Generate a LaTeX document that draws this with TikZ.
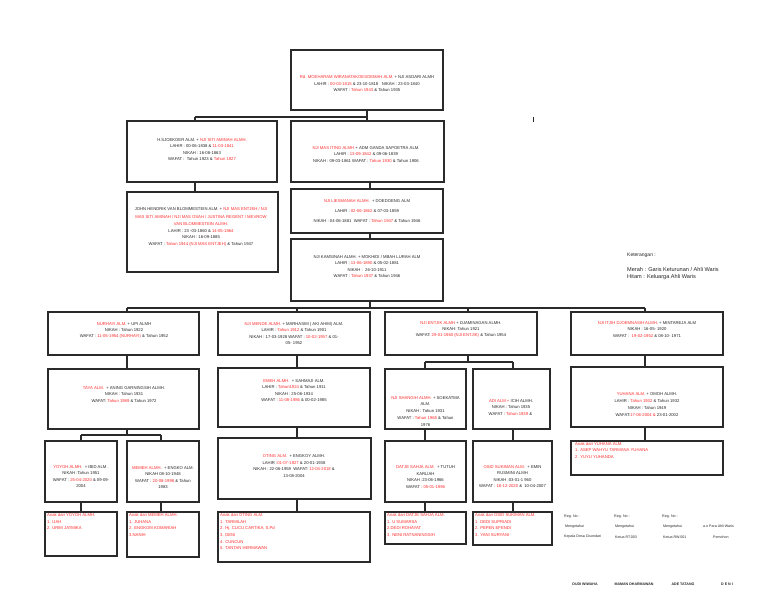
\documentclass[tikz,border=0pt]{standalone}
\usepackage{fontspec}
\setmainfont{Liberation Sans}
\definecolor{redt}{HTML}{FF2B2B}
\definecolor{blk}{HTML}{262626}
\definecolor{lin}{HTML}{2A2A2A}
\newcommand{\rtx}[1]{\textcolor{redt}{#1}}
\begin{document}
\begin{tikzpicture}[x=1pt,y=-1pt,
 box/.style={draw=lin, line width=1.1pt, rectangle, inner sep=0pt, fill=white},
 conn/.style={draw=lin, line width=1.1pt},
 txt/.style={font=\fontsize{4.2}{6.4}\selectfont, align=center, text=blk, inner sep=0pt},
 lst/.style={font=\fontsize{4.2}{6.6}\selectfont, align=left, text=redt, inner sep=0pt, anchor=north west},
 sig/.style={font=\fontsize{3.6}{4.5}\selectfont, text=blk, inner sep=0pt, anchor=west},
 nam/.style={font=\fontsize{3.6}{4.5}\selectfont\bfseries, text=blk, inner sep=0pt},
 leg/.style={font=\fontsize{5.6}{7}\selectfont, text=blk, inner sep=0pt, anchor=west},
]
\useasboundingbox (0,0) rectangle (768,613);
\fill[white] (0,0) rectangle (768,613);

% ---------- boxes ----------
\node[box, minimum width=152pt, minimum height=60pt] (b0) at (367,80) {};
\node[box, minimum width=150pt, minimum height=61pt] (b1a) at (202,151.5) {};
\node[box, minimum width=153pt, minimum height=61pt] (b1b) at (367.5,151.5) {};
\node[box, minimum width=151pt, minimum height=80pt] (b2a) at (202.5,232) {};
\node[box, minimum width=152pt, minimum height=44pt] (b2b) at (367,211) {};
\node[box, minimum width=152pt, minimum height=62pt] (b2c) at (367,270) {};

\node[box, minimum width=151pt, minimum height=43pt] (r4a) at (123.5,333.5) {};
\node[box, minimum width=152pt, minimum height=43pt] (r4b) at (294,333.5) {};
\node[box, minimum width=152pt, minimum height=43pt] (r4c) at (461,333.5) {};
\node[box, minimum width=152pt, minimum height=43pt] (r4d) at (647,333.5) {};

\node[box, minimum width=151pt, minimum height=60pt] (r5a) at (123.5,399) {};
\node[box, minimum width=152pt, minimum height=59pt] (r5b) at (294,397.5) {};
\node[box, minimum width=81pt, minimum height=60pt] (r5c) at (425.5,399) {};
\node[box, minimum width=77pt, minimum height=60pt] (r5d) at (511.5,399) {};
\node[box, minimum width=152pt, minimum height=60pt] (r5e) at (647,397) {};

\node[box, minimum width=72pt, minimum height=61pt] (r6a) at (81,471.5) {};
\node[box, minimum width=72pt, minimum height=61pt] (r6b) at (163,471.5) {};
\node[box, minimum width=153pt, minimum height=61pt] (r6c) at (294.5,468.5) {};
\node[box, minimum width=81pt, minimum height=61pt] (r6d) at (425.5,471.5) {};
\node[box, minimum width=79pt, minimum height=61pt] (r6e) at (512.5,471.5) {};
\node[box, minimum width=152pt, minimum height=34pt] (r6f) at (647,458) {};

\node[box, minimum width=72pt, minimum height=44pt] (r7a) at (81,534) {};
\node[box, minimum width=72pt, minimum height=45pt] (r7b) at (163,534.5) {};
\node[box, minimum width=152pt, minimum height=50pt] (r7c) at (294,537) {};
\node[box, minimum width=81pt, minimum height=32pt] (r7d) at (425.5,528) {};
\node[box, minimum width=79pt, minimum height=33pt] (r7e) at (512.5,528.5) {};

% ---------- junction coordinates ----------
\coordinate (j1) at (367,117);
\coordinate (j1l) at (195,117);
\coordinate (x370) at (370,185);
\coordinate (j3) at (370,308);
\coordinate (j3l) at (127,308);
\coordinate (j3b) at (297,308);
\coordinate (j3c) at (468,308);
\coordinate (j3r) at (645,308);
\coordinate (j4l) at (425,362);
\coordinate (j4r) at (513,362);
\coordinate (j5l) at (81,435);
\coordinate (j5r) at (161,435);
\coordinate (m1) at (533,117);
\coordinate (m2) at (533,122);

% ---------- connectors ----------
\draw[conn] (b0.south) -- (b0.south |- b1b.north);
\draw[conn] (j1l) -- (j1);
\draw[conn] (j1l) -- (j1l |- b1a.north);
\draw[conn] (j1l |- b1a.south) -- (j1l |- b2a.north);
\draw[conn] (x370 |- b1b.south) -- (x370 |- b2b.north);
\draw[conn] (x370 |- b2b.south) -- (x370 |- b2c.north);
\draw[conn] (x370 |- b2c.south) -- (j3);
\draw[conn] (j3l) -- (j3r);
\draw[conn] (j3l) -- (j3l |- r4a.north);
\draw[conn] (j3b) -- (j3b |- r4b.north);
\draw[conn] (j3c) -- (j3c |- r4c.north);
\draw[conn] (j3r) -- (j3r |- r4d.north);
\draw[conn] (j3l |- r4a.south) -- (j3l |- r5a.north);
\draw[conn] (j3b |- r4b.south) -- (j3b |- r5b.north);
\draw[conn] (j3c |- r4c.south) -- (j3c |- j4l);
\draw[conn] (j4l) -- (j4r);
\draw[conn] (j4l) -- (j4l |- r5c.north);
\draw[conn] (j4r) -- (j4r |- r5d.north);
\draw[conn] (j3r |- r4d.south) -- (j3r |- r5e.north);
\draw[conn] (j3l |- r5a.south) -- (j3l |- j5l);
\draw[conn] (j5l) -- (j5r);
\draw[conn] (j5l) -- (j5l |- r6a.north);
\draw[conn] (j5r) -- (j5r |- r6b.north);
\draw[conn] (j3b |- r5b.south) -- (j3b |- r6c.north);
\draw[conn] (j4l |- r5c.south) -- (j4l |- r6d.north);
\draw[conn] (j4r |- r5d.south) -- (j4r |- r6e.north);
\draw[conn] (j3r |- r5e.south) -- (j3r |- r6f.north);
\draw[conn] (j5l |- r6a.south) -- (j5l |- r7a.north);
\draw[conn] (j5r |- r6b.south) -- (j5r |- r7b.north);
\draw[conn] (j3b |- r6c.south) -- (j3b |- r7c.north);
\draw[conn] (j4l |- r6d.south) -- (j4l |- r7d.north);
\draw[conn] (j4r |- r6e.south) -- (j4r |- r7e.north);
\draw[conn, line width=0.9pt] (m1) -- (m2);

% ---------- texts ----------
\node[txt] (t0) at (367,83.5) {\rtx{Rd. MOEHARAM WIRANATAKOESOEMAH ALM.} + NJI ASDARI ALMH\\LAHIR : \rtx{00-03-1815} \& 23-10-1818 \ \ NIKAH : 23-03-1840\\WAFAT : \rtx{Tahun 1943} \& Tahun 1935};

\node[txt] (t1a) at (202,149.5) {H.SJOEKOER ALM. + \rtx{NJI SITI AMINAH ALMH.}\\LAHIR : 00-06-1838 \& \rtx{11-03-1841}\\NIKAH : 16-08-1863\\WAFAT : \ Tahun 1923 \& \rtx{Tahun 1927}};

\node[txt] (t1b) at (366,154.5) {\rtx{NJI MAS ITING ALMH} + ADM GANDA SAPOETRA ALM.\\LAHIR : \rtx{13-09-1842} \& 09-06-1839\\NIKAH : 09-03-1861 WAFAT : \rtx{Tahun 1930} \& Tahun 1906};

\node[txt] (t2a) at (201,227) {JOHN HENDRIK VAN BLOMMESTEIN ALM. + \rtx{NJI MAS ENTJEH / NJI}\\[1.5pt]\rtx{MAS SITI AMINAH / NJI MAS OSAH / JUSTINA REGENT / MEVROW}\\\rtx{VAN BLOMMESTEIN ALMH.}\\[1pt]LAHIR : 23 -03-1860 \& \rtx{14-05-1864}\\NIKAH : 16-09-1885\\WAFAT : \rtx{Tahun 1944 (NJI MAS ENTJEH)} \& Tahun 1947};

\node[txt] (t2b) at (367,211.5) {\rtx{NJI LIESMANAH ALMH.} \ + DOEDOENG ALM\\[3.6pt]LAHIR : \rtx{02-06-1862} \& 07-03-1859\\[3.6pt]NIKAH : 04-06-1881 \ WAFAT : \rtx{Tahun 1947} \& Tahun 1946};

\node[txt] (t2c) at (367,266.5) {NJI KAMSINAH ALMH. + MOKHIDI / MBAH LURAH ALM\\LAHIR : \rtx{13-06-1890} \& 05-02-1881\\NIKAH : \ 26-10-1911\\WAFAT : \rtx{Tahun 1937} \& Tahun 1946};

\node[txt] (t4a) at (124,330.5) {\rtx{NURHAYI ALM.} + UPI ALMH\\NIKAH : Tahun 1922\\WAFAT : \rtx{11-05-1954 (NURHAYI)} \& Tahun 1952};

\node[txt] (t4b) at (294,333.5) {\rtx{NJI MENDE ALMH.} + MARHASIM ( AKI AHIM) ALM.\\LAHIR : \rtx{Tahun 1912} \& Tahun 1901\\NIKAH : 17-03-1928 WAFAT : \rtx{10-02-1957} \& 01-\\05- 1952};

\node[txt] (t4c) at (461,329.5) {\rtx{NJI ENTJIK ALMH} + DJAMINAGAN ALMH.\\NIKAH: Tahun 1921\\WAFAT: \rtx{29-01-1960 (NJI ENTJIK)} \& Tahun 1954};

\node[txt] (t4d) at (647,329.5) {\rtx{NJI ITJIH DJOEMNASIH ALMH.} + MINTAREJA ALM\\NIKAH : 16-05- 1920\\WAFAT : \ \rtx{19-02-1952} \& 08-10- 1971};

\node[txt] (t5a) at (124,394.5) {\rtx{TAYA ALM.} \ + ANING GARNINGSIH ALMH.\\NIKAH : Tahun 1931\\WAFAT: \rtx{Tahun 1989} \& Tahun 1972};

\node[txt] (t5b) at (294,390.5) {\rtx{EMEH ALMH.} \ + SAHMAJI ALM.\\LAHIR : \rtx{Tahun1924} \& Tahun 1911\\NIKAH : 25-06-1934\\WAFAT : \rtx{11-08-1986} \& 00-02-1985};

\node[txt] (t5c) at (425.5,411.5) {\rtx{NJI SHANGIH ALMH.} + SOEKATMA\\ALM.\\[0.6pt]NIKAH : Tahun 1931\\[0.6pt]WAFAT : \rtx{Tahun 1968} \& Tahun\\1976};

\node[txt] (t5d) at (511,407.5) {\rtx{ADI ALM +} ICIH ALMH.\\NIKAH : Tahun 1935\\WAFAT : \rtx{Tahun 1939} \& \hspace{14pt}};

\node[txt] (t5e) at (647,404.5) {\rtx{YUHANA ALM.} + OMOH ALMH.\\[0.4pt]LAHIR : \rtx{Tahun 1932} \& Tahun 1932\\[0.8pt]NIKAH : Tahun 1949\\[0.6pt]WAFAT:\rtx{17-06-2004 \&} 23-01-2002};

\node[txt] (t6a) at (81,476.5) {\rtx{YOYOH ALMH.} \ + IBID ALM .\\NIKAH :Tahun 1951\\WAFAT : \rtx{25-04-2020} \& 09-09-\\2004};

\node[txt] (t6b) at (163,477.5) {\rtx{MEMEH ALMH.} \ + ENGKO ALM.\\NIKAH 08-10-1948\\[0.6pt]WAFAT : \rtx{20-08-1998} \& Tahun\\1983};

\node[txt] (t6c) at (294,466) {\rtx{OTING ALM.} \ + ENGKOY ALMH.\\LAHIR :\rtx{01-07-1927} \& 20-01-1938\\NIKAH : 22-06-1959 \ WAFAT: \rtx{12-04-2018} \&\\13-08-2004};

\node[txt] (t6d) at (425.5,477) {\rtx{DATJE SAHJA ALM.} \ + TUTUH\\KARLIAH\\NIKAH :23-06-1966\\WAFAT : \rtx{05-01-1996}};

\node[txt] (t6e) at (512.5,476.5) {\rtx{OSID SUKIMAN ALM.} \ + EMIN\\RUSMINI ALMH\\NIKAH :03-01-1 960\\WAFAT : \rtx{18-12-2020} \& \ 10-04-2007};

\node[lst] (t6f) at (575,442) {Anak dari YUHANA ALM.\\1. ASEP WAHYU TARMANA YUHANA\\2. YUYU YUHANDA};

\node[lst] (t7a) at (47,513.5) {Anak dari YOYOH ALMH.\\1. IJAH\\2. URIM JATMIKA};
\node[lst] (t7b) at (129,513.5) {Anak dari MEMEH ALMH.\\1. JUHANA\\2. ENGKOM KOMARIAH\\3.NANIH};
\node[lst] (t7c) at (220,513.5) {Anak dari OTING ALM.\\1. TARMILAH\\2. Hj. CUCU CARTIKA, S.Pd\\3. DENI\\4. CUNCUN\\5. TANTAN HERMAWAN};
\node[lst] (t7d) at (387,513.5) {Anak dari DATJE SAHJA ALM.\\1. U SUMARSA\\2.DEDI ROHAYAT\\3. NENI RATNANINGSIH};
\node[lst] (t7e) at (475,513.5) {Anak dari OSID SUKIMAN ALM.\\1. DEDI SUPRIADI\\2. PEPEN EFENDI\\3. YANI SURYANI};

% ---------- legend ----------
\node[leg, font=\fontsize{5}{6}\selectfont] (k0) at (627,255) {Keterangan :};
\node[leg] (k1) at (627,269) {Merah : Garis Keturunan / Ahli Waris};
\node[leg] (k2) at (627,277.5) {Hitam : Keluarga Ahli Waris};

% ---------- signatures ----------
\node[sig] (s1) at (564,517) {Reg. No :};
\node[sig] (s2) at (614,517) {Reg. No :};
\node[sig] (s3) at (662,517) {Reg. No :};
\node[sig] (s4) at (565,526.5) {Mengetahui};
\node[sig] (s5) at (615,526.5) {Mengetahui};
\node[sig] (s6) at (663,526.5) {Mengetahui};
\node[sig] (s7) at (703,526.5) {a.n Para Ahli Waris};
\node[sig] (s8) at (564,537) {Kepala Desa Cisondari};
\node[sig] (s9) at (615,537) {Ketua RT.003};
\node[sig] (s10) at (663,537) {Ketua RW.001};
\node[sig] (s11) at (713,537) {Pemohon};
\node[nam] (n1) at (585,584) {DUDI WIWAHA};
\node[nam] (n2) at (634,584) {MAMAN DHARMAWAN};
\node[nam] (n3) at (683,584) {ADE TATANG};
\node[nam] (n4) at (727,584) {D E N I};
\end{tikzpicture}
\end{document}
